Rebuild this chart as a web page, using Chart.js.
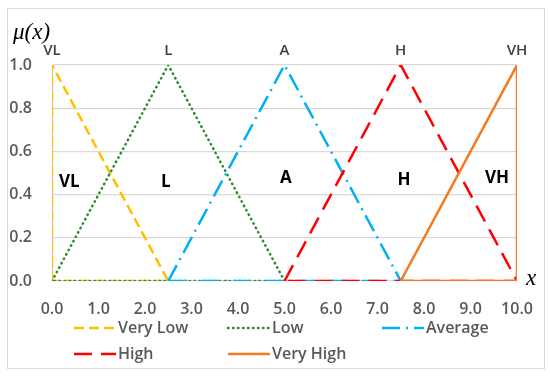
<!DOCTYPE html>
<html>
<head>
<meta charset="utf-8">
<script src="https://cdn.jsdelivr.net/npm/chart.js@4"></script>
<style>
  html, body { margin: 0; padding: 0; background: #fff; }
  #wrap { width: 550px; height: 379px; }
</style>
</head>
<body>
<div id="wrap"><canvas id="fuzzyChart" width="550" height="379"></canvas></div>
<script>
// membership functions, drawn as closed outlines like the excel scatter
const seriesNames = ['Very Low', 'Low', 'Average', 'High', 'Very High'];
const xVeryLow = [0, 0, 2.5, 0];
const yVeryLow = [0, 1, 0, 0];
const xLow = [0, 2.5, 5, 0];
const yLow = [0, 1, 0, 0];
const xAverage = [2.5, 5, 7.5, 2.5];
const yAverage = [0, 1, 0, 0];
const xHigh = [5, 7.5, 10, 5];
const yHigh = [0, 1, 0, 0];
const xVeryHigh = [7.5, 10, 10, 7.5];
const yVeryHigh = [0, 1, 0, 0];

const xTicks = [0, 1, 2, 3, 4, 5, 6, 7, 8, 9, 10];
const yTicks = [0, 0.2, 0.4, 0.6, 0.8, 1.0];

// short labels over each peak and inside each triangle
const peakLabels = ['VL', 'L', 'A', 'H', 'VH'];
const peakX = [0, 2.5, 5, 7.5, 10];
const innerLabels = ['VL', 'L', 'A', 'H', 'VH'];
const innerX = [0.37, 2.45, 5.03, 7.57, 9.57];
const innerY = [0.46, 0.46, 0.48, 0.47, 0.48];

const colors = ['#FFC000', '#2E8B2E', '#00B0F0', '#FF0000', '#F47B20'];
const dashes = [[10, 5], [0.5, 4.5], [18, 6, 2, 6], [18, 9], []];

function toPoints(xs, ys) {
    return xs.map((x, i) => ({ x: x, y: ys[i] }));
}

const xs = [xVeryLow, xLow, xAverage, xHigh, xVeryHigh];
const ys = [yVeryLow, yLow, yAverage, yHigh, yVeryHigh];

const datasets = seriesNames.map((name, i) => ({
    label: name,
    data: toPoints(xs[i], ys[i]),
    showLine: true,
    borderColor: colors[i],
    backgroundColor: colors[i],
    borderWidth: 2.5,
    borderDash: dashes[i],
    borderCapStyle: i === 1 ? 'round' : 'butt',
    pointRadius: 0,
    tension: 0,
    order: seriesNames.length - i
}));

const tickFont = { family: '"Open Sans", sans-serif', size: 16, weight: '600' };

const decorations = {
    id: 'decorations',
    beforeDraw(chart) {
        const c = chart.ctx;
        c.save();
        c.fillStyle = '#fff';
        c.fillRect(0, 0, chart.width, chart.height);
        c.strokeStyle = '#d9d9d9';
        c.lineWidth = 1;
        c.strokeRect(7.5, 8.5, 537, 360);
        c.restore();
    },
    afterDraw(chart) {
        const c = chart.ctx;
        const xs = chart.scales.x;
        const ysc = chart.scales.y;
        const area = chart.chartArea;
        c.save();

        // axis names
        c.fillStyle = '#000';
        c.font = 'italic 23px "Liberation Serif", serif';
        c.textAlign = 'left';
        c.textBaseline = 'middle';
        c.fillText('\u03bc(x)', 13, 33);
        c.fillText('x', area.right + 9, area.bottom - 2);

        // peak labels
        c.fillStyle = '#404040';
        c.font = '600 15px "Open Sans", sans-serif';
        c.textAlign = 'center';
        peakLabels.forEach((t, i) => {
            c.fillText(t, xs.getPixelForValue(peakX[i]), ysc.getPixelForValue(1) - 14);
        });

        // labels inside triangles
        c.fillStyle = '#000';
        c.font = 'bold 17px "Open Sans", sans-serif';
        innerLabels.forEach((t, i) => {
            c.fillText(t, xs.getPixelForValue(innerX[i]), ysc.getPixelForValue(innerY[i]) + 1);
        });

        // legend, two rows like the original
        const slots = [[74, 328], [228, 328], [382, 328], [74, 354], [228, 354]];
        c.font = '600 16px "Open Sans", sans-serif';
        c.textAlign = 'left';
        chart.data.datasets.forEach((ds, i) => {
            const [lx, ly] = slots[i];
            c.strokeStyle = ds.borderColor;
            c.lineWidth = 2.5;
            c.lineCap = ds.borderCapStyle;
            c.setLineDash(ds.borderDash);
            c.beginPath();
            c.moveTo(lx, ly);
            c.lineTo(lx + 42, ly);
            c.stroke();
            c.setLineDash([]);
            c.fillStyle = '#595959';
            c.fillText(ds.label, lx + 44, ly);
        });
        c.restore();
    }
};

new Chart(document.getElementById('fuzzyChart'), {
    type: 'scatter',
    data: { datasets: datasets },
    options: {
        responsive: false,
        animation: false,
        layout: { padding: { left: 8, right: 33, top: 65, bottom: 0 } },
        plugins: { legend: { display: false }, tooltip: { enabled: false } },
        scales: {
            x: {
                type: 'linear',
                min: 0,
                max: 10,
                afterBuildTicks: s => { s.ticks = xTicks.map(v => ({ value: v })); },
                afterFit: s => { s.height = 98; },
                grid: { display: false },
                border: { display: false },
                ticks: {
                    color: '#595959',
                    font: tickFont,
                    padding: 11,
                    maxRotation: 0,
                    callback: v => v.toFixed(1)
                }
            },
            y: {
                min: 0,
                max: 1,
                afterBuildTicks: s => { s.ticks = yTicks.map(v => ({ value: v })); },
                afterFit: s => { s.width = 44; },
                grid: { color: '#d9d9d9', drawTicks: false, lineWidth: 1.2 },
                border: { display: true, color: '#bfbfbf' },
                ticks: {
                    color: '#595959',
                    font: tickFont,
                    padding: 20,
                    callback: v => v.toFixed(1)
                }
            }
        }
    },
    plugins: [decorations]
});
</script>
</body>
</html>
